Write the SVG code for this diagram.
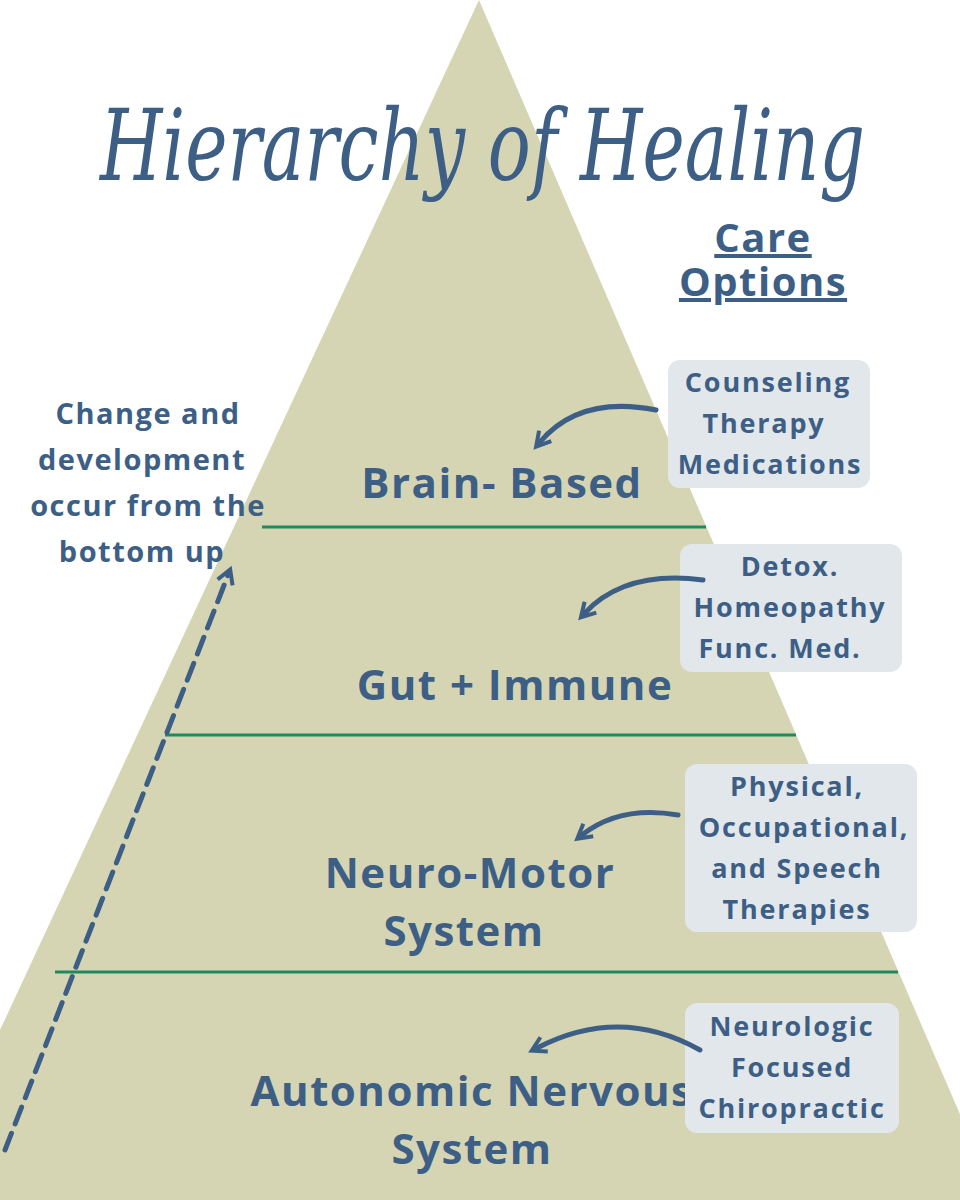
<svg xmlns="http://www.w3.org/2000/svg" width="960" height="1200" viewBox="0 0 960 1200">
<style>
.t{font-family:"Open Sans","Liberation Sans",sans-serif;font-weight:bold;fill:#3d5f85}
.big{font-size:42px;letter-spacing:1.5px}
.sm{font-size:27px;letter-spacing:1.8px}
.box{fill:#e2e7ec}
.div{stroke:#1f8a60;stroke-width:3}
.arr{fill:none;stroke:#3d5f85;stroke-width:5;stroke-linecap:round}
</style>
<defs>
<marker id="ah" viewBox="0 0 10 10" refX="5" refY="5" markerWidth="4" markerHeight="4" orient="auto"><path d="M1,1 L8,5 L1,9" fill="none" stroke="#3d5f85" stroke-width="2"/></marker>
</defs>
<rect width="960" height="1200" fill="#fff"/>
<g id="pyramid"><polygon points="479,0 997,1200 -79,1200" fill="#d6d5b3"/></g>
<g id="dividers">
<line class="div" x1="262" y1="527" x2="706" y2="527"/>
<line class="div" x1="165" y1="735" x2="796" y2="735"/>
<line class="div" x1="55" y1="972" x2="898" y2="972"/>
</g>
<g id="title"><text x="100" y="180" textLength="765" lengthAdjust="spacingAndGlyphs" font-family="DejaVu Serif,serif" font-style="italic" font-size="100" fill="#3d5f85">Hierarchy of Healing</text></g>
<g id="care"><text class="t" font-size="40" letter-spacing="1.5" text-anchor="middle" text-decoration="underline"><tspan x="763" y="252">Care</tspan><tspan x="763" y="296">Options</tspan></text></g>
<g id="note"><text class="t" font-size="29" letter-spacing="1.5" text-anchor="middle"><tspan x="148" y="424">Change and</tspan><tspan x="142" y="470">development</tspan><tspan x="148" y="516">occur from the</tspan><tspan x="142" y="562">bottom up</tspan></text></g>
<g id="levels">
<text class="t big" x="502" y="498" text-anchor="middle">Brain- Based</text>
<text class="t big" x="515" y="700" text-anchor="middle">Gut + Immune</text>
<text class="t big" text-anchor="middle"><tspan x="470" y="888">Neuro-Motor</tspan><tspan x="464" y="946">System</tspan></text>
<text class="t big" text-anchor="middle"><tspan x="472" y="1106">Autonomic Nervous</tspan><tspan x="472" y="1164">System</tspan></text>
</g>
<g id="options">
<rect class="box" x="668" y="360" width="202" height="128" rx="12"/>
<text class="t sm" text-anchor="middle"><tspan x="768" y="392">Counseling</tspan><tspan x="764" y="433">Therapy</tspan><tspan x="770" y="474">Medications</tspan></text>
<rect class="box" x="680" y="544" width="222" height="128" rx="12"/>
<text class="t sm" text-anchor="middle"><tspan x="790" y="576">Detox.</tspan><tspan x="790" y="617">Homeopathy</tspan><tspan x="780" y="658">Func. Med.</tspan></text>
<rect class="box" x="685" y="764" width="232" height="168" rx="12"/>
<text class="t sm" text-anchor="middle"><tspan x="797" y="796">Physical,</tspan><tspan x="804" y="837">Occupational,</tspan><tspan x="797" y="878">and Speech</tspan><tspan x="797" y="919">Therapies</tspan></text>
<rect class="box" x="685" y="1003" width="214" height="130" rx="12"/>
<text class="t sm" text-anchor="middle"><tspan x="792" y="1036">Neurologic</tspan><tspan x="792" y="1077">Focused</tspan><tspan x="792" y="1118">Chiropractic</tspan></text>
</g>
<g id="connectors">
<path class="arr" d="M656,410 Q580,395 540,442" marker-end="url(#ah)"/>
<path class="arr" d="M703,580 Q625,570 585,613" marker-end="url(#ah)"/>
<path class="arr" d="M678,815 Q620,805 582,835" marker-end="url(#ah)"/>
<path class="arr" d="M700,1050 Q620,1005 537,1048" marker-end="url(#ah)"/>
<path class="arr" d="M5,1150 L228,575" stroke-dasharray="18,10" marker-end="url(#ah)"/>
</g>
</svg>
